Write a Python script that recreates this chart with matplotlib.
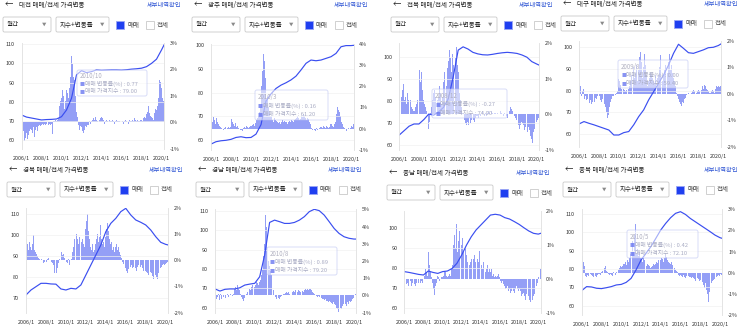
import matplotlib

matplotlib.use("Agg", force=True)
import matplotlib.pyplot as plt
import numpy as np
from matplotlib.patches import FancyBboxPatch, Rectangle

plt.rcParams["font.family"] = ["Noto Sans CJK KR", "DejaVu Sans"]

W, H = 743, 330

# ---- data ----
regions = ["대전", "광주", "전북", "대구", "경북", "경남", "충남", "충북"]

x_tick_labels = ["2006/1", "2008/1", "2010/1", "2012/1", "2014/1", "2016/1", "2018/1", "2020/1"]
# index line sampled every six months from 2006/1, plus 2020/4
index_months = list(range(0, 169, 6)) + [171]

daejeon_index = [73.1, 72.0, 71.5, 71.0, 70.5, 70.7, 70.8, 71.0, 72.2, 75.7, 81.8, 94.0, 96.2, 95.2, 95.7,
                 96.6, 96.4, 96.5, 96.6, 96.6, 96.5, 96.7, 97.0, 97.2, 97.5, 98.3, 100.0, 102.2, 107.0, 109.6]
gwangju_index = [58.3, 59.3, 59.7, 59.9, 60.3, 61.1, 61.4, 61.0, 61.1, 62.5, 66.5, 76.5, 79.5, 81.8, 83.2,
                 84.2, 85.4, 87.0, 89.6, 92.4, 93.8, 93.5, 93.8, 94.5, 95.2, 96.6, 99.4, 99.9, 99.9, 100.0]
jeonbuk_index = [64.5, 66.5, 68.5, 69.5, 69.5, 71.5, 74.0, 73.5, 75.0, 77.0, 81.0, 91.0, 103.0, 104.5, 103.5,
                 102.0, 101.3, 100.9, 100.8, 101.1, 101.5, 101.8, 102.0, 101.8, 101.5, 100.8, 99.8, 97.8, 96.7, 96.2]
daegu_index = [64.6, 65.7, 64.9, 64.2, 63.4, 62.6, 61.8, 59.5, 59.5, 60.6, 61.1, 64.2, 68.0, 71.1, 75.7,
               79.5, 83.4, 87.2, 91.8, 97.2, 101.4, 99.5, 97.5, 97.2, 98.0, 98.8, 99.8, 100.0, 100.8, 101.5]
gyeongbuk_index = [71.3, 73.7, 75.3, 76.9, 76.9, 76.6, 76.5, 74.2, 73.7, 74.5, 74.2, 76.1, 80.9, 85.7, 90.5,
                   95.3, 101.7, 105.7, 108.1, 111.3, 112.9, 109.7, 107.3, 106.2, 104.9, 102.5, 99.3, 96.6, 95.6, 95.3]
gyeongnam_index = [69.7, 68.6, 69.5, 69.7, 69.7, 70.3, 71.7, 72.2, 72.6, 76.0, 87.2, 104.1, 105.3, 104.5, 103.6,
                   103.6, 104.1, 105.3, 107.1, 109.7, 110.9, 110.2, 107.9, 104.5, 101.0, 98.4, 96.7, 95.9, 95.5, 95.5]
chungnam_index = [78.2, 77.8, 77.3, 76.8, 76.5, 78.5, 77.8, 77.3, 78.2, 78.5, 79.8, 82.4, 86.6, 91.6, 95.8,
                  99.2, 101.7, 104.2, 106.7, 107.1, 106.7, 105.4, 104.7, 103.4, 102.0, 100.3, 98.7, 97.5, 97.1, 97.5]
chungbuk_index = [68.2, 70.4, 70.2, 69.5, 69.3, 69.8, 70.4, 71.3, 71.6, 72.7, 74.9, 79.5, 84.9, 88.5, 92.2,
                  96.7, 101.3, 104.9, 108.0, 110.4, 111.3, 109.8, 107.6, 105.8, 104.0, 102.2, 100.4, 98.5, 97.1, 96.7]

# monthly change (%), 2006/1 .. 2020/4
daejeon_rate = [
    0.45, -0.25, -0.35, -0.55, -0.7, -0.6, -0.4, -0.65, -0.5, -0.3, -0.35, -0.25,
    -0.3, -0.4, -0.2, -0.25, -0.55, -0.3, -0.2, -0.35, -0.15, -0.2, -0.1, -0.15,
    -0.1, -0.05, -0.1, 0.05, -0.05, -0.1, -0.05, 0.0, -0.1, -0.15, -0.05, -0.1,
    -0.05, -0.45, 0.05, 0.0, 0.05, 0.1, 0.05, 0.1, 0.15, 0.3, 0.6, 0.8,
    0.9, 1.2, 1.0, 0.7, 0.5, 0.8, 1.2, 1.1, 0.9, 0.77, 1.3, 1.7,
    2.5, 2.2, 1.7, 2.1, 1.6, 1.0, 0.4, 0.2, -0.1, -0.2, -0.3, -0.15,
    -0.2, -0.35, -0.4, -0.25, -0.3, -0.15, -0.2, -0.1, -0.1, -0.05, 0.05, -0.05,
    0.05, 0.1, 0.15, 0.05, 0.1, 0.2, 0.1, 0.05, 0.0, 0.05, 0.1, 0.15,
    0.2, 0.15, 0.1, 0.05, -0.05, 0.05, 0.1, 0.05, 0.0, 0.05, 0.1, 0.05,
    0.05, 0.1, 0.05, 0.0, -0.05, 0.05, 0.1, 0.05, 0.05, 0.1, 0.05, 0.0,
    0.0, 0.05, -0.05, 0.0, 0.05, 0.1, 0.05, 0.0, -0.05, 0.05, 0.1, 0.05,
    0.05, 0.1, 0.05, 0.1, 0.15, 0.1, 0.05, 0.1, 0.05, 0.0, 0.05, 0.1,
    0.1, 0.05, 0.15, 0.1, 0.2, 0.15, 0.3, 0.4, 0.6, 0.5, 0.35, 0.25,
    0.2, 0.15, 0.1, 0.3, 0.35, 0.5, 0.45, 0.6, 0.9, 1.1, 1.6, 1.5,
    1.3, 0.9, 0.8, 1.1,
]
gwangju_rate = [
    0.5, 0.45, 0.3, 0.55, 0.4, 0.2, 0.35, 0.5, 0.3, 0.2, 0.15, 0.1,
    0.1, 0.05, 0.0, -0.05, 0.05, 0.1, 0.05, 0.0, 0.05, 0.1, 0.05, 0.1,
    0.2, 0.45, 0.3, 0.2, 0.15, 0.25, 0.2, 0.1, 0.15, 0.05, 0.0, -0.05,
    -0.1, -0.05, -0.1, 0.05, 0.1, 0.05, 0.1, 0.15, 0.1, 0.05, 0.1, 0.15,
    0.1, 0.15, 0.16, 0.2, 0.15, 0.25, 0.3, 0.4, 0.5, 0.6, 0.8, 1.0,
    1.4, 2.0, 2.7, 3.5, 3.2, 2.4, 1.8, 1.3, 1.5, 1.0, 0.8, 0.6,
    0.5, 0.6, 0.4, 0.3, 0.5, 0.4, 0.3, 0.35, 0.3, 0.25, 0.3, 0.2,
    0.2, 0.3, 0.4, 0.3, 0.35, 0.3, 0.25, 0.3, 0.2, 0.3, 0.35, 0.3,
    0.3, 0.4, 0.35, 0.3, 0.4, 0.45, 0.4, 0.5, 0.6, 0.5, 0.4, 0.45,
    0.5, 0.6, 0.55, 0.7, 0.6, 0.5, 0.6, 0.4, 0.5, 0.45, 0.3, 0.2,
    0.1, 0.05, -0.05, 0.0, -0.05, -0.1, 0.0, 0.05, -0.05, 0.0, 0.05, 0.1,
    0.05, 0.1, 0.05, 0.15, 0.1, 0.05, 0.1, 0.15, 0.1, 0.05, 0.1, 0.2,
    0.15, 0.2, 0.15, 0.1, 0.2, 0.3, 0.5, 0.7, 1.0, 0.9, 0.8, 0.6,
    0.4, 0.3, 0.2, 0.1, 0.05, 0.0, -0.05, -0.1, 0.0, 0.05, 0.0, 0.05,
    0.1, 0.15, 0.1, 0.2,
]
jeonbuk_rate = [
    0.8, 0.6, 0.9, 0.5, 0.7, 0.85, 0.4, 0.6, 0.5, 0.3, 0.6, 0.4,
    0.3, 0.2, 0.4, 0.2, 0.15, 0.1, 0.05, 0.1, 0.2, 0.3, 0.4, 0.5,
    1.0, 1.25, 0.9, 1.2, 0.7, 0.5, 0.4, 0.3, 0.2, 0.1, -0.1, -0.27,
    -0.4, -0.2, 0.05, 0.2, 0.3, 0.4, 0.6, 0.7, 0.5, 0.3, 0.2, 0.4,
    0.5, 0.8, 0.6, 0.4, 0.3, 0.5, 0.9, 1.2, 1.5, 1.0, 0.8, 1.3,
    1.5, 1.8, 1.95, 1.6, 1.2, 1.7, 1.4, 1.8, 1.3, 1.6, 1.9, 1.4,
    1.2, 1.0, 0.6, 0.4, 0.2, 0.05, -0.1, -0.2, -0.15, -0.25, -0.3, -0.2,
    -0.2, -0.3, -0.1, -0.25, -0.15, -0.2, -0.1, -0.15, -0.2, -0.1, -0.05, -0.1,
    -0.05, -0.1, 0.0, -0.05, -0.1, 0.05, 0.1, 0.0, -0.05, 0.05, 0.0, -0.05,
    0.05, 0.1, 0.05, 0.1, 0.15, 0.1, 0.05, 0.0, 0.05, 0.1, 0.05, 0.0,
    0.05, 0.0, -0.05, 0.05, 0.1, 0.05, 0.0, -0.05, 0.0, 0.05, 0.0, -0.05,
    -0.1, -0.05, 0.0, 0.1, 0.2, 0.15, 0.1, 0.05, 0.0, -0.05, -0.1, -0.15,
    -0.2, -0.25, -0.3, -0.4, -0.3, -0.2, -0.35, -0.25, -0.3, -0.45, -0.35, -0.3,
    -0.4, -0.5, -0.35, -0.45, -0.6, -0.5, -0.7, -0.8, -0.5, -0.4, -0.3, -0.25,
    -0.2, -0.15, -0.1, -0.05,
]
daegu_rate = [
    0.5, 0.4, 0.3, -0.1, 0.1, 0.2, -0.15, -0.2, -0.1, -0.25, -0.2, -0.3,
    -0.2, -0.35, -0.25, -0.4, -0.3, -0.2, -0.25, -0.3, -0.15, -0.2, -0.1, -0.15,
    -0.2, -0.1, -0.25, -0.3, -0.2, -0.15, -0.25, -0.4, -0.5, -0.7, -0.9, -1.1,
    -0.8, -0.5, -0.3, -0.2, -0.1, -0.05, -0.1, 0.0, -0.05, 0.05, 0.1, 0.2,
    0.55, 0.5, 0.35, 0.2, 0.15, 0.1, 0.2, 0.15, 0.1, 0.15, 0.2, 0.1,
    0.2, 0.3, 0.5, 0.7, 0.9, 1.2, 1.0, 0.6, 0.8, 1.1, 0.7, 0.5,
    0.9, 1.4, 1.6, 1.2, 0.8, 0.6, 1.0, 1.5, 1.1, 0.7, 0.4, 0.3,
    0.5, 0.6, 0.8, 0.7, 0.9, 0.6, 0.5, 0.4, 0.7, 0.9, 0.8, 0.6,
    0.7, 1.0, 1.47, 1.2, 0.8, 0.5, 0.7, 0.9, 1.1, 1.3, 1.0, 0.8,
    1.2, 1.5, 0.9, 0.7, 1.1, 0.8, 0.6, 0.5, 0.3, 0.2, 0.05, -0.1,
    -0.2, -0.3, -0.4, -0.5, -0.45, -0.3, -0.35, -0.2, -0.15, -0.1, -0.05, 0.0,
    0.05, 0.0, 0.05, 0.1, 0.05, 0.1, 0.15, 0.1, 0.05, 0.1, 0.05, 0.1,
    0.15, 0.1, 0.2, 0.25, 0.15, 0.3, 0.2, 0.35, 0.25, 0.3, 0.2, 0.15,
    0.1, 0.05, 0.1, 0.05, 0.1, 0.15, 0.1, 0.05, 0.15, 0.2, 0.3, 0.25,
    0.3, 0.25, 0.2, 0.3,
]
gyeongbuk_rate = [
    0.5, 0.8, 0.6, 0.4, 0.7, 0.5, 0.3, 0.4, 0.6, 0.95, 0.4, 0.3,
    0.2, 0.25, 0.15, 0.1, 0.05, 0.0, -0.05, 0.05, 0.0, -0.1, -0.05, -0.1,
    -0.1, -0.05, 0.05, 0.1, 0.0, -0.05, -0.1, -0.05, -0.1, -0.2, -0.5, -0.6,
    -1.3, -0.5, -0.3, -0.1, 0.05, 0.1, 0.2, 0.3, 0.2, 0.25, 0.1, 0.0,
    0.1, -0.05, -0.1, 0.05, -0.2, -0.3, -0.1, 0.05, 0.3, 0.5, 0.8, 0.6,
    0.7, 1.0, 0.8, 0.6, 0.9, 1.2, 1.0, 0.7, 0.8, 0.6, 0.5, 0.9,
    1.2, 1.5, 1.75, 1.1, 0.8, 0.6, 0.5, 0.4, 0.6, 0.3, 0.4, 0.5,
    0.6, 0.8, 1.0, 0.7, 0.9, 1.1, 1.35, 0.8, 0.6, 0.7, 0.5, 0.6,
    0.9, 1.2, 1.4, 1.1, 0.8, 0.5, 0.6, 0.7, 0.4, 0.5, 0.3, 0.4,
    0.5, 0.6, 0.4, 0.5, 0.3, 0.35, 0.2, 0.1, -0.05, -0.15, -0.2, -0.3,
    -0.3, -0.4, -0.5, -0.35, -0.45, -0.3, -0.25, -0.2, -0.3, -0.25, -0.2, -0.35,
    -0.3, -0.4, -0.25, -0.2, -0.3, -0.35, -0.25, -0.2, -0.3, -0.4, -0.35, -0.3,
    -0.4, -0.45, -0.5, -0.55, -0.4, -0.35, -0.45, -0.5, -0.6, -0.7, -0.75, -0.6,
    -0.55, -0.65, -0.7, -0.5, -0.45, -0.4, -0.3, -0.25, -0.2, -0.15, -0.1, -0.2,
    -0.15, -0.1, -0.05, -0.1,
]
gyeongnam_rate = [
    0.3, 0.2, -0.2, -0.1, 0.1, -0.25, 0.15, 0.1, -0.2, 0.05, -0.1, 0.2,
    0.1, -0.15, 0.05, 0.1, -0.1, 0.05, 0.2, 0.1, 0.05, -0.05, 0.1, 0.15,
    0.4, 0.5, 0.3, 0.6, 0.4, 0.2, 0.3, 0.1, -0.1, -0.2, -0.3, -0.1,
    -0.15, 0.05, 0.1, 0.2, 0.3, 0.2, 0.4, 0.3, 0.5, 0.6, 0.4, 0.7,
    0.5, 0.6, 0.8, 0.7, 0.9, 0.6, 0.8, 0.89, 1.2, 1.5, 1.8, 2.3,
    3.0, 4.66, 4.0, 3.2, 2.6, 2.0, 1.7, 1.4, 1.2, 1.0, 0.6, 0.3,
    0.05, -0.1, -0.2, -0.25, -0.2, -0.15, -0.2, -0.1, -0.05, 0.0, 0.05, 0.1,
    0.1, 0.15, 0.2, 0.1, 0.15, 0.2, 0.1, 0.05, 0.1, 0.15, 0.2, 0.25,
    0.2, 0.3, 0.25, 0.35, 0.2, 0.3, 0.25, 0.2, 0.3, 0.35, 0.25, 0.2,
    0.3, 0.35, 0.4, 0.3, 0.35, 0.3, 0.4, 0.35, 0.25, 0.3, 0.2, 0.15,
    0.1, 0.05, 0.0, -0.05, -0.1, -0.05, -0.1, -0.15, -0.1, -0.15, -0.2, -0.2,
    -0.25, -0.3, -0.2, -0.35, -0.3, -0.4, -0.35, -0.3, -0.4, -0.45, -0.5, -0.4,
    -0.5, -0.6, -0.55, -0.7, -0.8, -0.95, -0.6, -0.5, -0.7, -0.8, -0.6, -0.5,
    -0.6, -0.7, -0.5, -0.6, -0.4, -0.5, -0.45, -0.3, -0.4, -0.3, -0.2, -0.15,
    -0.1, 0.05, 0.1, 0.15,
]
chungnam_rate = [
    0.5, -0.1, -0.2, -0.15, -0.1, -0.2, -0.15, -0.1, -0.05, -0.2, -0.1, -0.15,
    -0.1, -0.15, -0.2, -0.1, -0.05, -0.15, -0.1, 0.0, -0.1, -0.15, -0.05, -0.1,
    0.0, 0.1, 0.5, 0.3, 0.2, 0.1, 0.8, 1.05, 0.4, 0.2, 0.05, -0.1,
    -0.2, -0.3, -0.47, -0.2, -0.1, 0.05, 0.1, 0.05, -0.05, 0.0, 0.1, 0.05,
    0.05, 0.1, 0.2, 0.4, 0.2, 0.1, 0.05, 0.1, 0.2, 0.15, 0.1, 0.3,
    0.4, 0.7, 1.0, 1.3, 0.9, 1.6, 1.2, 0.8, 1.1, 1.4, 1.72, 1.3,
    1.0, 1.2, 0.8, 0.6, 1.0, 0.9, 0.7, 0.5, 0.8, 0.6, 0.4, 0.5,
    0.6, 0.5, 0.4, 0.6, 0.7, 0.5, 0.3, 0.4, 0.6, 0.5, 0.82, 0.6,
    0.5, 0.4, 0.3, 0.5, 0.4, 0.3, 0.2, 0.3, 0.4, 0.3, 0.2, 0.3,
    0.2, 0.3, 0.2, 0.1, 0.15, 0.05, 0.1, 0.0, 0.05, 0.1, 0.15, 0.05,
    0.0, -0.05, -0.1, -0.05, -0.15, -0.1, -0.2, -0.3, -0.25, -0.2, -0.3, -0.35,
    -0.3, -0.4, -0.35, -0.3, -0.25, -0.35, -0.4, -0.3, -0.25, -0.2, -0.3, -0.35,
    -0.3, -0.4, -0.35, -0.5, -0.45, -0.4, -0.55, -0.5, -0.6, -0.45, -0.5, -0.4,
    -0.5, -0.6, -0.66, -0.55, -0.76, -0.6, -0.5, -0.45, -0.4, -0.3, -0.2, -0.1,
    0.05, 0.1, 0.2, 0.3,
]
chungbuk_rate = [
    1.05, 0.8, 0.5, 0.3, -0.1, -0.15, -0.2, -0.1, -0.15, -0.2, -0.1, -0.05,
    -0.1, -0.15, -0.2, -0.1, -0.05, -0.15, -0.2, -0.1, -0.05, 0.0, -0.05, -0.1,
    0.05, 0.1, 0.3, 0.25, 0.2, 0.3, 0.1, 0.05, 0.0, -0.05, -0.1, -0.05,
    -0.1, -0.15, -0.05, 0.05, 0.0, -0.1, 0.05, 0.1, 0.05, 0.15, 0.2, 0.3,
    0.25, 0.35, 0.3, 0.4, 0.42, 0.5, 0.35, 0.45, 0.6, 0.5, 0.7, 0.9,
    1.2, 2.7, 1.5, 1.0, 1.8, 2.3, 1.3, 0.9, 1.1, 0.8, 1.0, 0.7,
    0.8, 0.6, 0.5, 0.7, 0.6, 0.4, 0.5, 0.3, 0.4, 0.35, 0.3, 0.25,
    0.2, 0.25, 0.3, 0.4, 0.35, 0.3, 0.4, 0.5, 0.45, 0.6, 0.5, 0.55,
    0.6, 0.7, 0.65, 0.5, 0.6, 0.7, 0.82, 0.75, 0.6, 0.5, 0.55, 0.45,
    0.4, 0.5, 0.35, 0.3, 0.25, 0.2, 0.15, 0.1, 0.05, -0.05, -0.1, -0.15,
    -0.1, -0.15, -0.2, -0.15, -0.1, -0.2, -0.25, -0.15, -0.2, -0.1, -0.15, -0.2,
    -0.2, -0.25, -0.3, -0.2, -0.25, -0.3, -0.4, -0.35, -0.3, -0.25, -0.3, -0.4,
    -0.35, -0.4, -0.5, -0.45, -0.6, -0.7, -0.5, -0.6, -0.8, -1.0, -1.39, -0.9,
    -0.7, -0.6, -0.5, -0.4, -0.35, -0.3, -0.25, -0.3, -0.2, -0.15, -0.1, -0.15,
    -0.1, -0.05, -0.1, -0.05,
]

index_series = [daejeon_index, gwangju_index, jeonbuk_index, daegu_index,
                gyeongbuk_index, gyeongnam_index, chungnam_index, chungbuk_index]
rate_series = [daejeon_rate, gwangju_rate, jeonbuk_rate, daegu_rate,
               gyeongbuk_rate, gyeongnam_rate, chungnam_rate, chungbuk_rate]

# hover tooltips that were captured in the screenshots
tip_dates = ["2010/10", "2010/3", "2008/12", "2009/8", None, "2010/8", None, "2010/5"]
tip_rates = ["0.77", "0.16", "-0.27", "0.00", None, "0.89", None, "0.42"]
tip_index = ["79.00", "61.20", "74.00", "59.40", None, "79.20", None, "72.10"]

# ---- layout, in screenshot pixels ----
# x of 2006/1, x of 2020/1, plot top, plot bottom, left ylim, right ylim,
# left ticks, right ticks, header left, header y, link right edge, tooltip box
LAYOUT = [
    (21.5, 161.5, 42.7, 148.7, (55.5, 110.8), (-1, 3), range(60, 111, 10), range(-1, 4), 3, 5, 181, (77, 70, 147, 96)),
    (211, 351, 43.7, 150, (55.8, 100.7), (-1, 4), range(60, 101, 10), range(-1, 5), 192, 5, 368, (255, 90, 328, 120)),
    (399.3, 536.7, 43.3, 150, (57.7, 106.1), (-1, 2), range(60, 101, 10), range(-1, 3), 391, 5, 553, (432, 89, 507, 118)),
    (579, 718.3, 41, 146.7, (54.1, 102.9), (-2, 2), range(60, 101, 10), range(-2, 3), 561, 4, 738, (618, 60, 688, 88)),
    (26, 165.7, 207.7, 312.7, (62.8, 113.2), (-2, 2), range(70, 111, 10), range(-2, 3), 7, 170, 183, None),
    (215, 354, 209.3, 312.7, (57.4, 110.9), (-1, 5), range(60, 111, 10), range(-1, 6), 196, 170, 362, (267, 247, 337, 275)),
    (404.3, 538.3, 210.7, 313.3, (57.2, 108.9), (-1, 2), range(60, 101, 10), range(-1, 3), 387, 173, 550, None),
    (581.7, 720, 209.3, 315, (54.9, 112.6), (-2, 3), range(60, 111, 10), range(-2, 4), 563, 170, 738, (627, 230, 698, 258)),
]

BAR = "#4d60f0"
LINE = "#3a4ef0"
TEXT = "#333333"
LINK = "#2f55d4"
TICK_FS = 3.9
HEAD_FS = 4.7


def px_rect(x0, y0, x1, y1):
    return [x0 / W, 1 - y1 / H, (x1 - x0) / W, (y1 - y0) / H]


def draw_header(ov, name, bx, ty, link_r):
    ov.text(bx + 2, ty, "←", fontsize=6, va="center", ha="left", color="#222222")
    ov.text(bx + 16, ty, f"{name} 매매/전세 가격변동", fontsize=HEAD_FS, va="center", ha="left", color="#222222")
    ov.text(link_r, ty, "세부내역확인", fontsize=4.5, va="center", ha="right", color=LINK)
    top = ty + 12
    h = 15
    cy = top + h / 2
    for x0, w, label in [(bx, 48, "월간"), (bx + 53, 53, "지수+변동률")]:
        ov.add_patch(FancyBboxPatch((x0, top), w, h, boxstyle="round,pad=0,rounding_size=1.5",
                                    fc="white", ec="#c9c9c9", lw=0.6))
        ov.text(x0 + 4, cy, label, fontsize=HEAD_FS, va="center", ha="left", color="#222222")
        ov.text(x0 + w - 5, cy, "▼", fontsize=3.2, va="center", ha="right", color="#8a8a8a")
    ov.add_patch(Rectangle((bx + 113, cy - 4), 8, 8, fc="#1f3ff0", ec="#9aa6f5", lw=0.6))
    ov.text(bx + 124, cy, "매매", fontsize=HEAD_FS, va="center", ha="left", color="#444444")
    ov.add_patch(Rectangle((bx + 143, cy - 4), 8, 8, fc="white", ec="#c9c9c9", lw=0.6))
    ov.text(bx + 154, cy, "전세", fontsize=HEAD_FS, va="center", ha="left", color="#444444")


def draw_tip(ov, box, date, rate, idx):
    x0, y0, x1, y1 = box
    ov.add_patch(FancyBboxPatch((x0, y0), x1 - x0, y1 - y0, boxstyle="round,pad=0,rounding_size=2",
                                fc="white", ec="#b8c0f2", lw=0.7, alpha=0.55))
    step = (y1 - y0) / 3.3
    ov.text(x0 + 3, y0 + step * 0.8, date, fontsize=4.4, va="center", color="#b0b0c0")
    for k, txt in enumerate([f"매매 변동률(%) : {rate}", f"매매 가격지수 : {idx}"]):
        yy = y0 + step * (1.75 + k)
        ov.text(x0 + 3, yy, "■", fontsize=3.6, va="center", color="#6a78f0", alpha=0.8)
        ov.text(x0 + 8, yy, txt, fontsize=4.2, va="center", color="#a9acc4")


fig = plt.figure(figsize=(W / 100, H / 100), dpi=100)
fig.patch.set_facecolor("white")

months = np.arange(len(daejeon_rate))
tick_months = np.arange(0, 169, 24)

for i, name in enumerate(regions):
    (x06, x20, top, bot, llim, rlim, lticks, rticks, bx, ty, link_r, tip) = LAYOUT[i]
    ppm = (x20 - x06) / 168
    x_end = x06 + (len(months) - 1) * ppm
    ax = fig.add_axes(px_rect(x06, top, x_end, bot))
    axr = ax.twinx()

    axr.bar(months, rate_series[i], width=0.9, color=BAR, alpha=0.6, linewidth=0)
    axr.set_ylim(*rlim)
    axr.set_yticks(list(rticks))
    axr.set_yticklabels([f"{v}%" for v in rticks])

    ax.plot(index_months, index_series[i], color=LINE, lw=0.85)
    ax.set_zorder(axr.get_zorder() + 1)
    ax.patch.set_visible(False)
    ax.set_xlim(0, len(months) - 1)
    ax.set_ylim(*llim)
    ax.set_yticks(list(lticks))
    ax.set_xticks(tick_months)
    ax.set_xticklabels(x_tick_labels)
    ax.grid(axis="y", color="#f1f1f1", lw=0.5)

    for a in (ax, axr):
        for side in ("top", "bottom"):
            a.spines[side].set_visible(False)
        a.spines["left"].set_color("#e4e4e4")
        a.spines["right"].set_color("#e4e4e4")
        a.spines["left"].set_linewidth(0.6)
        a.spines["right"].set_linewidth(0.6)
        a.tick_params(length=0, labelsize=TICK_FS, colors=TEXT)
    ax.tick_params(axis="y", pad=5)
    ax.tick_params(axis="x", pad=5)
    axr.tick_params(axis="y", pad=4)

ov = fig.add_axes([0, 0, 1, 1], zorder=20)
ov.set_xlim(0, W)
ov.set_ylim(H, 0)
ov.axis("off")
ov.patch.set_visible(False)

for i, name in enumerate(regions):
    (x06, x20, top, bot, llim, rlim, lticks, rticks, bx, ty, link_r, tip) = LAYOUT[i]
    draw_header(ov, name, bx, ty, link_r)
    if tip is not None and tip_dates[i] is not None:
        draw_tip(ov, tip, tip_dates[i], tip_rates[i], tip_index[i])

fig.savefig("out.png", dpi=100)
plt.close(fig)
